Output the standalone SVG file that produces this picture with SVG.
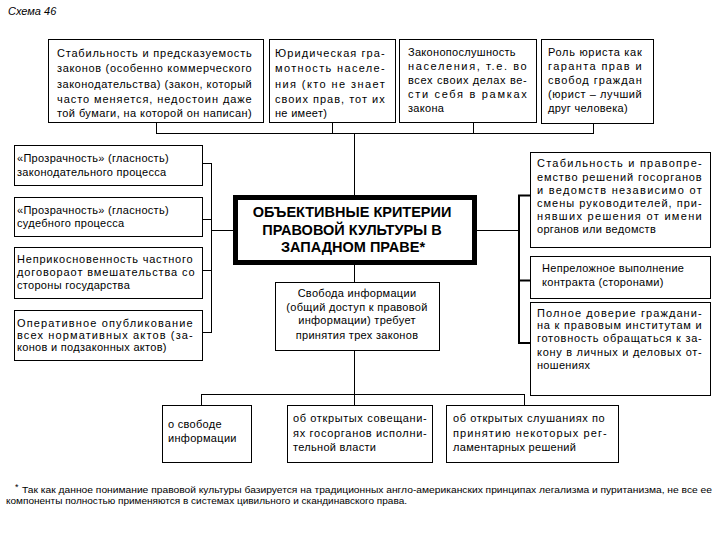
<svg xmlns="http://www.w3.org/2000/svg" width="720" height="540" viewBox="0 0 720 540">
<style>
.b{fill:#fff;stroke:#000;stroke-width:1}
.c{fill:none;stroke:#000;stroke-width:1}
.t{font-family:"Liberation Sans",Arial,sans-serif;font-size:11px;fill:#000;letter-spacing:0.3px}
.h{font-family:"Liberation Sans",Arial,sans-serif;font-size:14.5px;font-weight:bold;fill:#000;text-anchor:middle}
.f{font-family:"Liberation Sans",Arial,sans-serif;font-size:9px;fill:#000}
.m{text-anchor:middle}
</style>
<rect width="720" height="540" fill="#fff"/>
<text x="8" y="15" class="t" font-style="italic" style="letter-spacing:0">Схема 46</text>

<g id="connectors">
<path class="c" d="M156.5 122.5V133.5M332.5 122.5V133.5M473.5 122.5V133.5M593.5 123.5V133.5M156 133.5H594M354.5 133.5V195"/>
<path class="c" d="M212 230.5H233M211.5 163V332.5M202 163.5H212M202 219.5H212M202 270.5H212M202 332.5H212"/>
<path class="c" d="M477 230.5H519" />
<path fill="none" stroke="#000" stroke-width="2" d="M519 195V344M518 195.5H530.5M518 280.5H530.5M518 343H530.5"/>
<path class="c" d="M354.5 265V282.5M354.5 350.5V405.5M201 394.5H525M201.5 394.5V405.5M524.5 394.5V405.5"/>
</g>

<g id="top1">
<rect class="b" x="48.5" y="39.5" width="215" height="83"/>
<text class="t" x="57" y="57" textLength="195" lengthAdjust="spacing">Стабильность и предсказуемость</text>
<text class="t" x="57" y="72" textLength="195" lengthAdjust="spacing">законов (особенно коммерческого</text>
<text class="t" x="57" y="88" textLength="195" lengthAdjust="spacing">законодательства) (закон, который</text>
<text class="t" x="57" y="103" textLength="195" lengthAdjust="spacing">часто меняется, недостоин даже</text>
<text class="t" x="57" y="117" textLength="195" lengthAdjust="spacing">той бумаги, на которой он написан)</text>
</g>
<g id="top2">
<rect class="b" x="269.5" y="39.5" width="126" height="83"/>
<text class="t" x="275" y="57" textLength="110" lengthAdjust="spacing">Юридическая гра-</text>
<text class="t" x="275" y="72" textLength="110" lengthAdjust="spacing">мотность населе-</text>
<text class="t" x="275" y="88" textLength="110" lengthAdjust="spacing">ния (кто не знает</text>
<text class="t" x="275" y="103" textLength="110" lengthAdjust="spacing">своих прав, тот их</text>
<text class="t" x="275" y="117">не имеет)</text>
</g>
<g id="top3">
<rect class="b" x="399.5" y="39.5" width="137" height="83"/>
<text class="t" x="408" y="56">Законопослушность</text>
<text class="t" x="408" y="70" textLength="119" lengthAdjust="spacing">населения, т.е. во</text>
<text class="t" x="408" y="84" textLength="119" lengthAdjust="spacing">всех своих делах ве-</text>
<text class="t" x="408" y="98" textLength="119" lengthAdjust="spacing">сти себя в рамках</text>
<text class="t" x="408" y="112">закона</text>
</g>
<g id="top4">
<rect class="b" x="541.5" y="39.5" width="112" height="84"/>
<text class="t" x="548" y="56" textLength="94" lengthAdjust="spacing">Роль юриста как</text>
<text class="t" x="548" y="70" textLength="94" lengthAdjust="spacing">гаранта прав и</text>
<text class="t" x="548" y="84" textLength="94" lengthAdjust="spacing">свобод граждан</text>
<text class="t" x="548" y="98" textLength="94" lengthAdjust="spacing">(юрист – лучший</text>
<text class="t" x="548" y="112">друг человека)</text>
</g>

<g id="left1">
<rect class="b" x="14.5" y="145.5" width="188" height="40"/>
<text class="t" x="17" y="162">«Прозрачность» (гласность)</text>
<text class="t" x="17" y="176">законодательного процесса</text>
</g>
<g id="left2">
<rect class="b" x="14.5" y="197.5" width="188" height="39"/>
<text class="t" x="17" y="214">«Прозрачность» (гласность)</text>
<text class="t" x="17" y="227">судебного процесса</text>
</g>
<g id="left3">
<rect class="b" x="14.5" y="247.5" width="188" height="51"/>
<text class="t" x="17" y="263" textLength="176" lengthAdjust="spacing">Неприкосновенность частного</text>
<text class="t" x="17" y="276" textLength="178" lengthAdjust="spacing">договораот вмешательства со</text>
<text class="t" x="17" y="289">стороны государства</text>
</g>
<g id="left4">
<rect class="b" x="14.5" y="310.5" width="188" height="50"/>
<text class="t" x="17" y="327" textLength="176" lengthAdjust="spacing">Оперативное опубликование</text>
<text class="t" x="17" y="339" textLength="176" lengthAdjust="spacing">всех нормативных актов (за-</text>
<text class="t" x="17" y="351">конов и подзаконных актов)</text>
</g>

<g id="center">
<rect x="235.5" y="197.5" width="239" height="65" fill="#fff" stroke="#000" stroke-width="5"/>
<text class="h" x="352" y="217">ОБЪЕКТИВНЫЕ КРИТЕРИИ</text>
<text class="h" x="352" y="235">ПРАВОВОЙ КУЛЬТУРЫ В</text>
<text class="h" x="353" y="252">ЗАПАДНОМ ПРАВЕ*</text>
</g>

<g id="right1">
<rect class="b" x="530.5" y="152.5" width="180" height="95"/>
<text class="t" x="537" y="167" textLength="165" lengthAdjust="spacing">Стабильность и правопре-</text>
<text class="t" x="537" y="181" textLength="165" lengthAdjust="spacing">емство решений госорганов</text>
<text class="t" x="537" y="194" textLength="165" lengthAdjust="spacing">и ведомств независимо от</text>
<text class="t" x="537" y="207" textLength="165" lengthAdjust="spacing">смены руководителей, при-</text>
<text class="t" x="537" y="220" textLength="165" lengthAdjust="spacing">нявших решения от имени</text>
<text class="t" x="537" y="233">органов или ведомств</text>
</g>
<g id="right2">
<rect class="b" x="530.5" y="256.5" width="180" height="42"/>
<text class="t" x="542" y="272">Непреложное выполнение</text>
<text class="t" x="542" y="286">контракта (сторонами)</text>
</g>
<g id="right3">
<rect class="b" x="530.5" y="302.5" width="180" height="93"/>
<text class="t" x="537" y="317" textLength="165" lengthAdjust="spacing">Полное доверие граждани-</text>
<text class="t" x="537" y="329" textLength="165" lengthAdjust="spacing">на к правовым институтам и</text>
<text class="t" x="537" y="342" textLength="165" lengthAdjust="spacing">готовность обращаться к за-</text>
<text class="t" x="537" y="356" textLength="165" lengthAdjust="spacing">кону в личных и деловых от-</text>
<text class="t" x="537" y="369">ношениях</text>
</g>

<g id="info">
<rect class="b" x="275.5" y="282.5" width="164" height="68"/>
<text class="t m" x="357" y="297">Свобода информации</text>
<text class="t m" x="357" y="311">(общий доступ к правовой</text>
<text class="t m" x="357" y="324">информации) требует</text>
<text class="t m" x="357" y="339">принятия трех законов</text>
</g>

<g id="law1">
<rect class="b" x="162.5" y="405.5" width="89" height="57"/>
<text class="t" x="168" y="428">о свободе</text>
<text class="t" x="168" y="442">информации</text>
</g>
<g id="law2">
<rect class="b" x="287.5" y="405.5" width="145" height="57"/>
<text class="t" x="293" y="422" textLength="134" lengthAdjust="spacing">об открытых совещани-</text>
<text class="t" x="293" y="437" textLength="134" lengthAdjust="spacing">ях госорганов исполни-</text>
<text class="t" x="293" y="451">тельной власти</text>
</g>
<g id="law3">
<rect class="b" x="446.5" y="405.5" width="172" height="57"/>
<text class="t" x="453" y="422" textLength="152" lengthAdjust="spacing">об открытых слушаниях по</text>
<text class="t" x="453" y="437" textLength="154" lengthAdjust="spacing">принятию некоторых рег-</text>
<text class="t" x="453" y="451">ламентарных решений</text>
</g>

<g id="footnote">
<text class="f" x="15" y="490" font-size="7">*</text>
<text class="f" x="22" y="493" textLength="690" lengthAdjust="spacingAndGlyphs">Так как данное понимание правовой культуры базируется на традиционных англо-американских принципах легализма и пуританизма, не все ее</text>
<text class="f" x="6" y="504" textLength="401" lengthAdjust="spacingAndGlyphs">компоненты полностью применяются в системах цивильного и скандинавского права.</text>
</g>
</svg>
